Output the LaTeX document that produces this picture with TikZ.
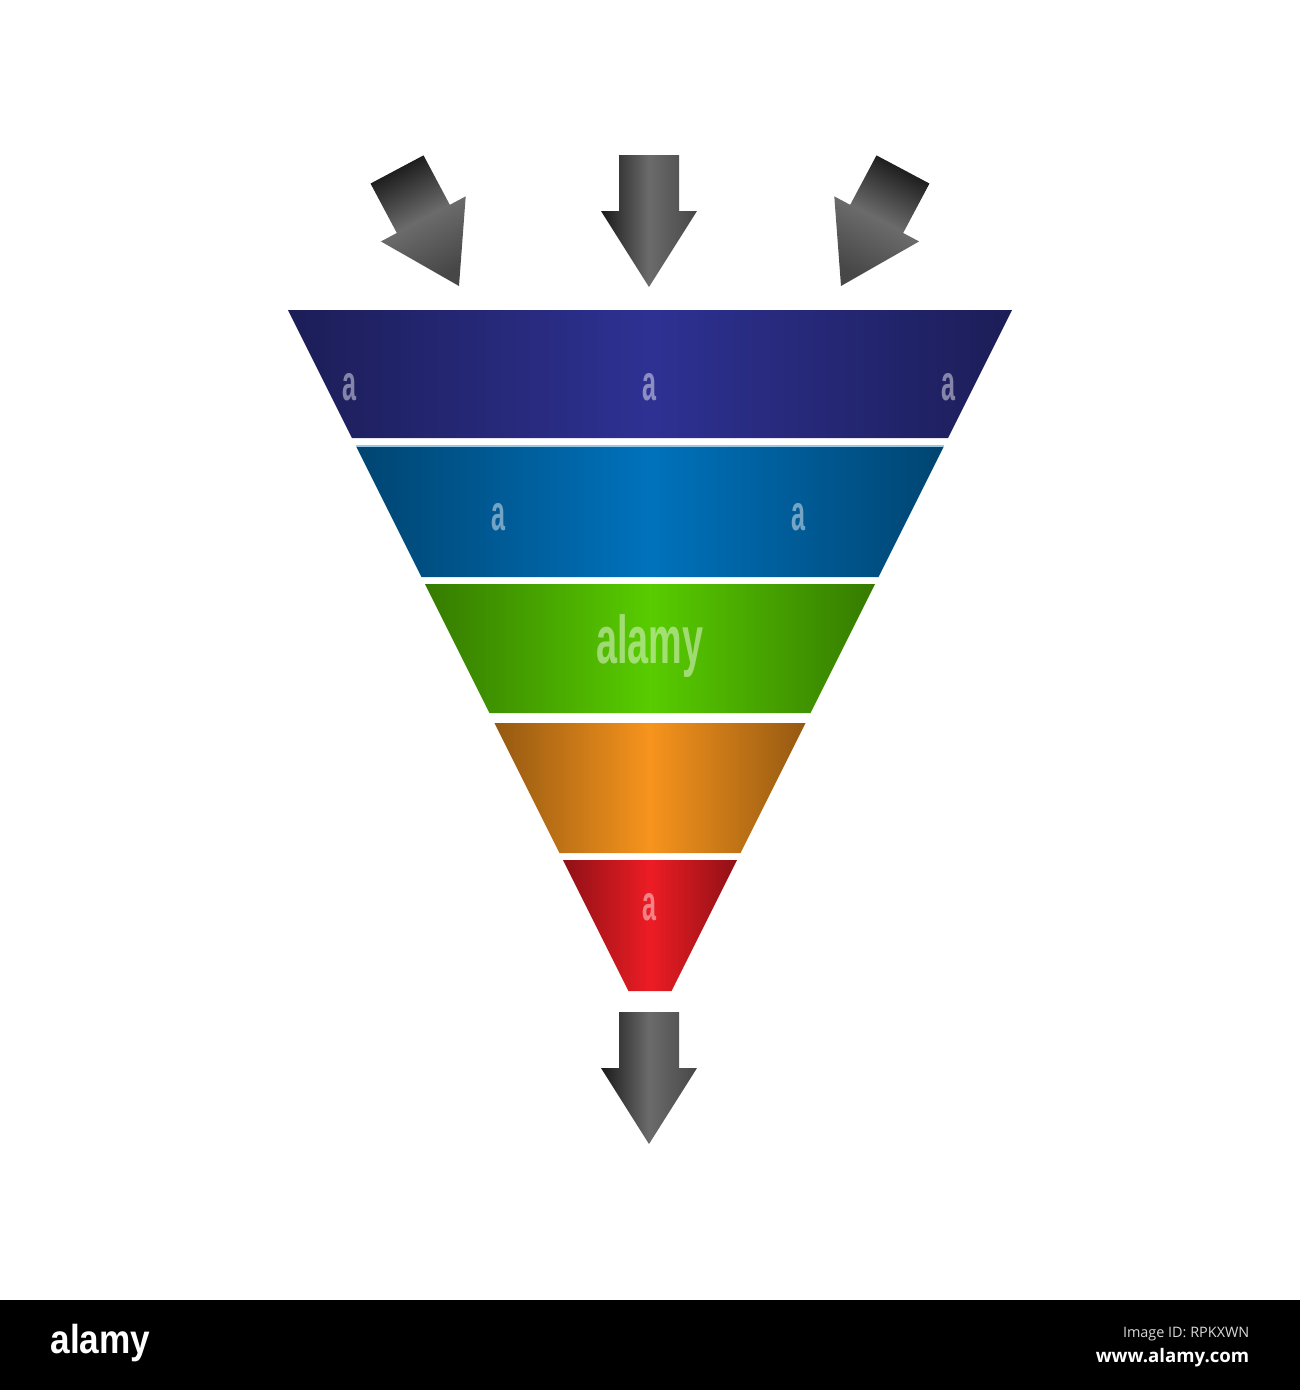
\documentclass[tikz,border=0pt]{standalone}
\usepackage{fontspec}
\setmainfont{Liberation Sans}
\newfontfamily\osfont{Open Sans}
\begin{document}
\begin{tikzpicture}[x=0.01cm,y=-0.01cm,
  band/.style={shading=axis,left color=#1!60!black,right color=#1!60!black,middle color=#1},
  grayarr/.style={left color=black!90,right color=black!72,middle color=black!58},
  wm/.style={text=white,opacity=0.45,font=\bfseries,inner sep=0pt}]
\useasboundingbox (0,0) rectangle (1300,1390);
\fill[white] (0,0) rectangle (1300,1390);
\definecolor{bandA}{HTML}{2E3192}
\definecolor{bandB}{HTML}{0072BC}
\definecolor{bandC}{HTML}{58CC00}
\definecolor{bandD}{HTML}{F7941D}
\definecolor{bandE}{HTML}{ED1C24}
% funnel bands (slope 0.5 on each side, centre x=650)
\path[band=bandA] (288,310) -- (1012,310) -- (948,438) -- (352,438) -- cycle;
\path[band=bandB] (356,446) -- (944,446) -- (878.5,577) -- (421.5,577) -- cycle;
\draw[color=bandB!40!white,line width=0.5pt] (356,446) -- (944,446);
\path[band=bandC] (425,584) -- (875,584) -- (810.5,713) -- (489.5,713) -- cycle;
\path[band=bandD] (494.5,723) -- (805.5,723) -- (740.5,853) -- (559.5,853) -- cycle;
\path[band=bandE] (563,860) -- (737,860) -- (671.5,991) -- (628.5,991) -- cycle;
% arrows
\newcommand\grayarrowpath{(-30,-132) -- (30,-132) -- (30,-76) -- (48,-76) -- (0,0) -- (-48,-76) -- (-30,-76) -- cycle}
\begin{scope}[shift={(459,286)},rotate=28]
  \path[grayarr,shading angle=28] \grayarrowpath;
\end{scope}
\begin{scope}[shift={(649,287)}]
  \path[grayarr] \grayarrowpath;
\end{scope}
\begin{scope}[shift={(841,286)},rotate=-28]
  \path[grayarr,shading angle=-28] \grayarrowpath;
\end{scope}
\begin{scope}[shift={(649,1144)}]
  \path[grayarr] \grayarrowpath;
\end{scope}
% watermark letters
\foreach \n/\px/\py in {w1/349/387,w2/649/387,w3/948/387,w4/498/517,w5/798/517,w6/649/907}{
  \node[wm,font=\bfseries\fontsize{14.3}{16}\selectfont,xscale=0.5] (\n) at (\px,\py) {a};
}
\node[wm,font=\bfseries\fontsize{19.2}{22}\selectfont,xscale=0.56,anchor=base] (wmain) at (650,663) {alamy};
% bottom bar
\fill[black] (0,1300) rectangle (1300,1390);
\node[text=white,font=\bfseries\fontsize{11.5}{13}\selectfont,xscale=0.87,anchor=base west,inner sep=0pt] (logo) at (50,1353) {alamy};
\node[text=black!15,font=\osfont\fontsize{4.1}{5}\selectfont,anchor=base east,inner sep=0pt] (imgid) at (1250,1337) {Image ID: RPKXWN};
\node[text=white,font=\osfont\bfseries\fontsize{5.3}{6}\selectfont,anchor=base east,inner sep=0pt] (www) at (1250,1362) {www.alamy.com};
\end{tikzpicture}
\end{document}
